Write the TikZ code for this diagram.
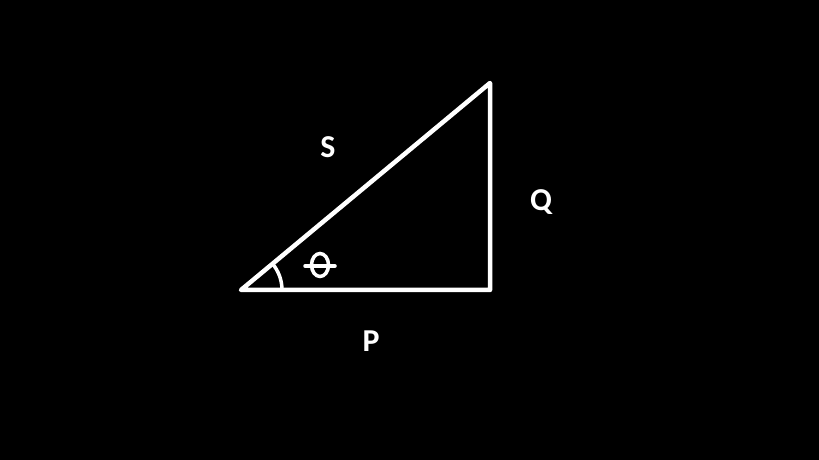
\documentclass[tikz,border=0pt]{standalone}
\usepackage{fontspec}
\setmainfont{Carlito}
\usetikzlibrary{calc}
\begin{document}
\begin{tikzpicture}[x=1bp,y=1bp,
  edge/.style={draw=white,line width=4.5bp,line cap=round,line join=round},
  thin/.style={draw=white,line width=3.5bp,line cap=round},
  lbl/.style={text=white,font=\fontsize{32}{32}\selectfont\bfseries,inner sep=0pt}]
\fill[black] (0,0) rectangle (819,460);
\useasboundingbox (0,0) rectangle (819,460);
\coordinate (A) at (241,170);
\coordinate (B) at (490,170);
\coordinate (C) at (490,377);
\draw[edge] (A) -- (B) -- (C) -- cycle;
\draw[thin] ($(A)+(39.7:41)$) arc[start angle=39.7,end angle=2,radius=41];
\node[lbl] (S) at (328,313) {S};
\node[lbl] (Q) at (541,258) {Q};
\node[lbl] (P) at (371,119) {P};
\draw[thin] (320,195) ellipse[x radius=8.5,y radius=11.5];
\draw[thin] (305,194) -- (335,194);
\end{tikzpicture}
\end{document}
